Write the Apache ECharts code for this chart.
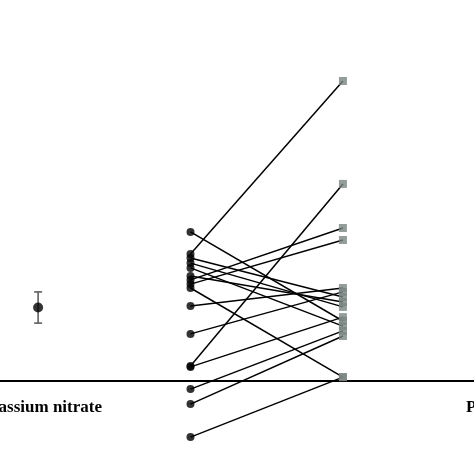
<!DOCTYPE html>
<html>
<head>
<meta charset="utf-8">
<script src="https://cdn.jsdelivr.net/npm/echarts@6/dist/echarts.min.js"></script>
<style>
  html, body { margin: 0; padding: 0; background: #fff; }
  #chart { width: 474px; height: 474px; }
</style>
</head>
<body>
<div id="chart"></div>
<script>
// paired values per subject: before (x = 1) and after (x = 2)
const before = [4.97, 4.23, 4.10, 3.93, 3.77, 3.50, 3.37, 3.23, 3.10, 2.50, 1.57, 0.50, 0.47, -0.27, -0.77, -1.87];
const after = [2.00, 10.00, 2.80, 2.47, 1.83, 2.63, 5.10, 4.70, 0.13, 3.10, 2.97, 6.57, 2.13, 1.67, 1.50, 0.13];
// group mean with error bar shown at x = 0
const meanValue = 2.45;
const meanError = 0.52;
const groupLabels = ['Potassium nitrate', 'Placebo'];

const chart = echarts.init(document.getElementById('chart'));

// one line series per subject
const pairLines = before.map((b, i) => ({
  type: 'line',
  data: [[1, b], [2, after[i]]],
  showSymbol: false,
  silent: true,
  lineStyle: { color: '#000', width: 1.5 },
  z: 2,
}));

const labelFont = 'bold 17px "Liberation Serif"';

const options = {
  animation: false,
  grid: { left: 0, right: 0, top: 6, bottom: 0 },
  xAxis: {
    type: 'value',
    min: -0.25,
    max: 2.86,
    axisLine: { onZero: true, lineStyle: { color: '#000', width: 2 } },
    axisTick: { show: false },
    axisLabel: { show: false },
    splitLine: { show: false },
  },
  yAxis: {
    type: 'value',
    min: -3.1,
    max: 12.5,
    show: false,
    splitLine: { show: false },
  },
  series: [
    ...pairLines,
    {
      type: 'scatter',
      data: before.map(v => [1, v]),
      symbol: 'circle',
      symbolSize: 8,
      itemStyle: { color: '#000' },
      z: 3,
    },
    {
      type: 'scatter',
      data: after.map(v => [2, v]),
      symbol: 'rect',
      symbolSize: 8,
      itemStyle: { color: '#7a8482' },
      z: 3,
    },
    {
      type: 'custom',
      data: [[0, meanValue - meanError, meanValue + meanError]],
      renderItem: function (params, api) {
        const lo = api.coord([api.value(0), api.value(1)]);
        const hi = api.coord([api.value(0), api.value(2)]);
        const cap = 4;
        const style = { stroke: '#555', lineWidth: 1.5 };
        return {
          type: 'group',
          children: [
            { type: 'line', shape: { x1: lo[0], y1: lo[1], x2: hi[0], y2: hi[1] }, style },
            { type: 'line', shape: { x1: lo[0] - cap, y1: lo[1], x2: lo[0] + cap, y2: lo[1] }, style },
            { type: 'line', shape: { x1: hi[0] - cap, y1: hi[1], x2: hi[0] + cap, y2: hi[1] }, style },
          ],
        };
      },
      z: 3,
    },
    {
      type: 'scatter',
      data: [[0, meanValue]],
      symbol: 'circle',
      symbolSize: 10,
      itemStyle: { color: '#000' },
      z: 4,
    },
  ],
  graphic: [
    {
      type: 'text',
      x: 102,
      y: 408,
      style: {
        text: groupLabels[0],
        font: labelFont,
        fill: '#000',
        align: 'right',
        verticalAlign: 'middle',
      },
    },
    {
      type: 'text',
      x: 466,
      y: 408,
      style: {
        text: groupLabels[1],
        font: labelFont,
        fill: '#000',
        align: 'left',
        verticalAlign: 'middle',
      },
    },
  ],
};

chart.setOption(options);
</script>
</body>
</html>
